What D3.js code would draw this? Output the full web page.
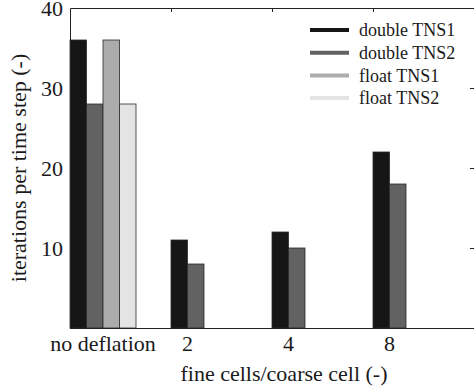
<!DOCTYPE html>
<html>
<head>
<meta charset="utf-8">
<script src="https://cdn.jsdelivr.net/npm/d3@7"></script>
<style>
  body { margin: 0; background: #fff; }
  text { font-family: "Liberation Serif", "Times New Roman", serif; fill: #1a1a1a; }
</style>
</head>
<body>
<script>
// chart data
var categories = ["no deflation", "2", "4", "8"];
var series = ["double TNS1", "double TNS2", "float TNS1", "float TNS2"];
var doubleTNS1 = [36, 11, 12, 22];
var doubleTNS2 = [28, 8, 10, 18];
var floatTNS1 = [36, 0, 0, 0];
var floatTNS2 = [28, 0, 0, 0];
var yTicks = [10, 20, 30, 40];
var colors = ["#161616", "#626262", "#acacac", "#e4e4e4"];

var values = [doubleTNS1, doubleTNS2, floatTNS1, floatTNS2];

var margin = {top: 8, right: 0, bottom: 58, left: 70},
    width = 474 - margin.left - margin.right,
    height = 386 - margin.top - margin.bottom;

var svg = d3.select("body").append("svg")
    .attr("width", 474)
    .attr("height", 386)
    .append("g")
    .attr("transform", "translate(" + margin.left + "," + margin.top + ")");

// groups sit at the left edge of each slot, 4 slots + one empty
var x = d3.scaleLinear().domain([0, 4]).range([0, 404]);
var xInner = d3.scaleBand().domain(series).range([0, 66]);
var y = d3.scaleLinear().domain([0, 40]).range([height, 0]);

// bars
categories.forEach(function (c, i) {
    series.forEach(function (s, j) {
        var v = values[j][i];
        if (!v) return;
        svg.append("rect")
            .attr("x", x(i) + xInner(s))
            .attr("y", y(v))
            .attr("width", xInner.bandwidth())
            .attr("height", height - y(v))
            .style("fill", colors[j])
            .style("stroke", "#2a2a2a")
            .style("stroke-width", 0.8);
    });
});

// frame
svg.append("path")
    .attr("d", "M0.5," + (height + 0.5) + "V0.5H" + (width + 1))
    .style("fill", "none").style("stroke", "#222").style("stroke-width", 1);
svg.append("line")
    .attr("x1", 0).attr("x2", width)
    .attr("y1", height + 0.5).attr("y2", height + 0.5)
    .style("stroke", "#222").style("stroke-width", 1.2);

// inner ticks on top and right
[1, 2, 3].forEach(function (i) {
    svg.append("line")
        .attr("x1", x(i) + 0.5).attr("x2", x(i) + 0.5)
        .attr("y1", 0).attr("y2", 4)
        .style("stroke", "#222");
});
yTicks.forEach(function (t) {
    svg.append("line")
        .attr("x1", width - 4).attr("x2", width)
        .attr("y1", y(t) + 0.5).attr("y2", y(t) + 0.5)
        .style("stroke", "#222");
});

// y tick labels
svg.selectAll(".ylab")
    .data(yTicks)
    .enter().append("text")
    .attr("x", -7)
    .attr("y", function (d) { return y(d); })
    .attr("dy", "0.38em")
    .attr("text-anchor", "end")
    .style("font-size", "22px")
    .text(function (d) { return d; });

// x tick labels, centred under the drawn bars of each group
categories.forEach(function (c, i) {
    var n = values.filter(function (v) { return v[i] > 0; }).length;
    svg.append("text")
        .attr("x", x(i) + n * xInner.bandwidth() / 2)
        .attr("y", height + 23)
        .attr("text-anchor", "middle")
        .style("font-size", "22px")
        .text(c);
});

// axis titles
svg.append("text")
    .attr("x", 214)
    .attr("y", height + 53)
    .attr("text-anchor", "middle")
    .style("font-size", "22px")
    .text("fine cells/coarse cell (-)");

svg.append("text")
    .attr("transform", "translate(" + (26 - margin.left) + "," + (height / 2) + ") rotate(-90)")
    .attr("text-anchor", "middle")
    .style("font-size", "22px")
    .text("iterations per time step (-)");

// legend
var legend = svg.append("g").attr("transform", "translate(240,22)");
series.forEach(function (s, j) {
    legend.append("line")
        .attr("x1", 0).attr("x2", 39)
        .attr("y1", j * 22.7).attr("y2", j * 22.7)
        .style("stroke", colors[j])
        .style("stroke-width", 4);
    legend.append("text")
        .attr("x", 49)
        .attr("y", j * 22.7)
        .attr("dy", "0.35em")
        .style("font-size", "18px")
        .text(s);
});
</script>
</body>
</html>
